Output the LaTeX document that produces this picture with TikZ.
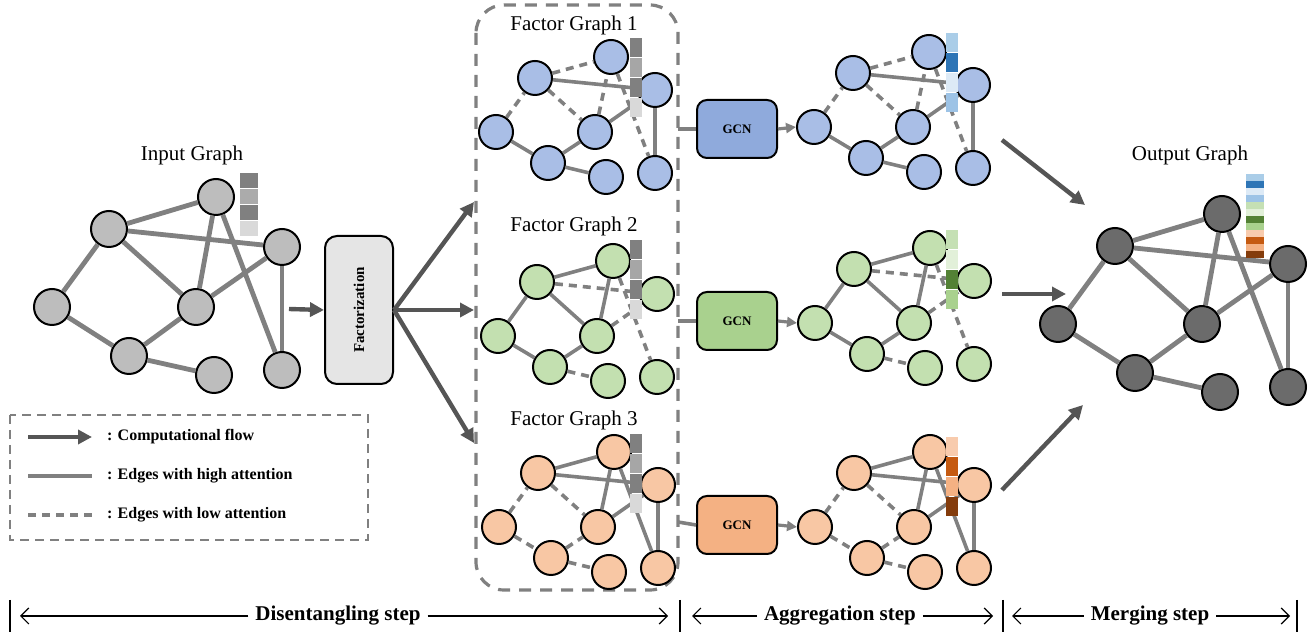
\documentclass[tikz,border=0pt]{standalone}
\usepackage{fontspec}
\setmainfont{Liberation Serif}
\usetikzlibrary{arrows.meta}
\definecolor{eg}{HTML}{808080}
\definecolor{fl}{HTML}{555555}
\definecolor{gn}{HTML}{BDBDBD}
\definecolor{dn}{HTML}{6B6B6B}
\definecolor{bn}{HTML}{A9BEE6}
\definecolor{grn}{HTML}{C3E0B0}
\definecolor{on}{HTML}{F8C7A4}
\definecolor{cb1}{RGB}{170,205,232}
\definecolor{cb2}{RGB}{46,117,182}
\definecolor{cb3}{RGB}{221,234,246}
\definecolor{cb4}{RGB}{157,195,230}
\definecolor{cg1}{RGB}{197,224,180}
\definecolor{cg2}{RGB}{226,240,217}
\definecolor{cg3}{RGB}{83,129,53}
\definecolor{cg4}{RGB}{169,209,142}
\definecolor{co1}{RGB}{248,203,173}
\definecolor{co2}{RGB}{197,90,17}
\definecolor{co3}{RGB}{244,177,131}
\definecolor{co4}{RGB}{132,60,12}
\tikzset{
  nd/.style={circle,draw=black,line width=1pt,minimum size=17pt,inner sep=0pt},
  bnd/.style={nd,minimum size=18pt},
  se/.style={draw=eg,line width=1.8pt},
  de/.style={draw=eg,line width=1.8pt,dash pattern=on 4pt off 3pt},
  be/.style={draw=eg,line width=2.4pt},
  flow/.style={draw=fl,line width=2.2pt,-{Triangle[length=7pt,width=7pt]}},
  sflow/.style={draw=eg,line width=1.6pt,-{Triangle[length=5pt,width=5pt]}},
  gcn/.style={draw=black,line width=1pt,rounded corners=5pt,minimum width=40pt,minimum height=29pt,font=\bfseries\fontsize{6.5}{7}\selectfont},
  lbl/.style={font=\fontsize{10.5}{12}\selectfont},
  steplbl/.style={font=\bfseries\fontsize{10.5}{12}\selectfont},
  cell/.style={minimum width=6pt,minimum height=9.5pt,inner sep=0pt,draw=none},
  ocell/.style={minimum width=9pt,minimum height=3.5pt,inner sep=0pt,draw=none},
  starr/.style={draw=black,line width=0.6pt,-{Straight Barb[length=4pt]}},
}
\newcommand\fgraph[4]{%
\begin{scope}[shift={(#2,#3)}]
\node[nd,fill=#4] (#1a) at (611,57) {};
\node[nd,fill=#4] (#1b) at (535,78) {};
\node[nd,fill=#4] (#1c) at (655,90) {};
\node[nd,fill=#4] (#1d) at (496,132) {};
\node[nd,fill=#4] (#1e) at (595,132) {};
\node[nd,fill=#4] (#1f) at (548,163) {};
\node[nd,fill=#4] (#1g) at (606,177) {};
\node[nd,fill=#4] (#1h) at (655,173) {};
\end{scope}}
\newcommand\igraph[4]{%
\begin{scope}[shift={(#2,#3)}]
\node[bnd,fill=#4] (#1a) at (216,197) {};
\node[bnd,fill=#4] (#1b) at (109,229) {};
\node[bnd,fill=#4] (#1c) at (282,247) {};
\node[bnd,fill=#4] (#1d) at (52,307) {};
\node[bnd,fill=#4] (#1e) at (196,307) {};
\node[bnd,fill=#4] (#1f) at (129,356) {};
\node[bnd,fill=#4] (#1g) at (214,375) {};
\node[bnd,fill=#4] (#1h) at (282,370) {};
\end{scope}
\foreach \u/\v in {b/a,b/c,b/e,b/d,d/f,f/e,f/g,a/e,a/h,e/c,c/h}{\draw[be] (#1\u) -- (#1\v);}}
\newcommand\edgesA[1]{%
\foreach \u/\v in {b/c,d/f,f/e,e/c,c/h,f/g}{\draw[se] (#1\u) -- (#1\v);}
\foreach \u/\v in {b/a,b/e,d/b,e/a,a/h}{\draw[de] (#1\u) -- (#1\v);}}
\newcommand\edgesB[1]{%
\foreach \u/\v in {b/a,b/e,d/b,d/f,f/e,a/e}{\draw[se] (#1\u) -- (#1\v);}
\foreach \u/\v in {b/c,f/g,e/c,a/h}{\draw[de] (#1\u) -- (#1\v);}}
\newcommand\edgesC[1]{%
\foreach \u/\v in {b/a,b/c,a/e,e/c,a/h,c/h}{\draw[se] (#1\u) -- (#1\v);}
\foreach \u/\v in {b/e,d/b,d/f,f/e,f/g}{\draw[de] (#1\u) -- (#1\v);}}
\begin{document}
\begin{tikzpicture}[x=0.5pt,y=-0.5pt]
\useasboundingbox (0,0) rectangle (1308,640);
% input graph
\node[lbl] (tin) at (192,155) {Input Graph};
\igraph{i}{0}{0}{gn}
\node[cell,fill=black!50,anchor=north,minimum width=9pt,minimum height=7.5pt] (ib1) at (249,173) {};
\node[cell,fill=black!33,anchor=north,minimum width=9pt,minimum height=7.5pt] (ib2) at (ib1.south) {};
\node[cell,fill=black!50,anchor=north,minimum width=9pt,minimum height=7.5pt] (ib3) at (ib2.south) {};
\node[cell,fill=black!15,anchor=north,minimum width=9pt,minimum height=7.5pt] (ib4) at (ib3.south) {};
% factorization
\node[draw=black,line width=1pt,rounded corners=6pt,fill=black!10,minimum width=34pt,minimum height=74pt] (fac) at (359,310) {};
\node[rotate=90,font=\bfseries\fontsize{7.5}{9}\selectfont] (factxt) at (fac.center) {Factorization};
\coordinate (inarr) at (289,309);
\draw[flow] (inarr) -- (fac.west);
\coordinate (t1) at (474,202);
\coordinate (t2) at (474,310);
\coordinate (t3) at (474,443);
\draw[flow] (fac.east) -- (t1);
\draw[flow] (fac.east) -- (t2);
\draw[flow] (fac.east) -- (t3);
% factor frame
\draw[draw=eg,line width=1.6pt,dash pattern=on 6pt off 4.5pt,rounded corners=14pt] (476,5) rectangle (678,590);
\node[lbl] (tf1) at (574,25) {Factor Graph 1};
\node[lbl] (tf2) at (574,226) {Factor Graph 2};
\node[lbl] (tf3) at (574,420) {Factor Graph 3};
% factor graphs
\fgraph{p}{0}{0}{bn}\edgesA{p}
\fgraph{q}{2}{204}{grn}\edgesB{q}
\fgraph{r}{3}{395}{on}\edgesC{r}
% outputs
\fgraph{s}{318}{-5}{bn}\edgesA{s}
\fgraph{t}{319}{191}{grn}\edgesB{t}
\fgraph{u}{319}{395}{on}\edgesC{u}
% bars (factor)
\foreach \n/\y in {pb/38,qb/240,rb/434}{
 \node[cell,fill=black!50,anchor=north] (\n1) at (636,\y) {};
 \node[cell,fill=black!35,anchor=north] (\n2) at (\n1.south) {};
 \node[cell,fill=black!50,anchor=north] (\n3) at (\n2.south) {};
 \node[cell,fill=black!15,anchor=north] (\n4) at (\n3.south) {};}
\foreach \n/\y/\p in {sb/33/cb,tb/230/cg,ub/437/co}{
 \node[cell,fill=\p1,anchor=north] (\n1) at (952,\y) {};
 \node[cell,fill=\p2,anchor=north] (\n2) at (\n1.south) {};
 \node[cell,fill=\p3,anchor=north] (\n3) at (\n2.south) {};
 \node[cell,fill=\p4,anchor=north] (\n4) at (\n3.south) {};}
% GCN
\node[gcn,fill={rgb,255:red,143;green,170;blue,220}] (g1) at (737,129) {GCN};
\node[gcn,fill={rgb,255:red,169;green,209;blue,142}] (g2) at (737,321) {GCN};
\node[gcn,fill={rgb,255:red,244;green,177;blue,131}] (g3) at (737,525) {GCN};
\coordinate (l1) at (678,129);\coordinate (l2) at (678,321);\coordinate (l3) at (678,522);
\draw[se] (l1) -- (g1.west);\draw[se] (l2) -- (g2.west);\draw[se] (l3) -- (g3.west);
\draw[sflow] (g1.east) -- (sd.west);
\draw[sflow] (g2.east) -- (td.west);
\draw[sflow] (g3.east) -- (ud.west);
% output graph
\node[lbl] (tout) at (1190,155) {Output Graph};
\igraph{o}{1006}{17}{dn}
\foreach \k/\cc in {1/cb1,2/cb2,3/cb3,4/cb4,5/cg1,6/cg2,7/cg3,8/cg4,9/co1,10/co2,11/co3,12/co4}{
 \node[ocell,fill=\cc,anchor=north] (ob\k) at (1255,{174+7*(\k-1)}) {};}
\coordinate (m1s) at (1002,140);\coordinate (m1e) at (1085,205);
\coordinate (m2s) at (1002,294);\coordinate (m2e) at (1066,294);
\coordinate (m3s) at (1002,490);\coordinate (m3e) at (1083,405);
\draw[flow] (m1s) -- (m1e);\draw[flow] (m2s) -- (m2e);\draw[flow] (m3s) -- (m3e);
% legend
\draw[draw=eg,line width=1.2pt,dash pattern=on 4.5pt off 3pt] (10,415) rectangle (368,540);
\coordinate (la1) at (28,437);\coordinate (la2) at (92,437);
\coordinate (lb1) at (28,476);\coordinate (lb2) at (92,476);
\coordinate (lc1) at (28,515);\coordinate (lc2) at (92,515);
\draw[flow] (la1) -- (la2);
\draw[se] (lb1) -- (lb2);
\draw[de] (lc1) -- (lc2);
\node[anchor=west,font=\bfseries\fontsize{8}{9}\selectfont] (lt1) at (100,437) {: Computational flow};
\node[anchor=west,font=\bfseries\fontsize{8}{9}\selectfont] (lt2) at (100,476) {: Edges with high attention};
\node[anchor=west,font=\bfseries\fontsize{8}{9}\selectfont] (lt3) at (100,515) {: Edges with low attention};
% steps
\foreach \n/\x in {v0/10,v1/680,v2/1003,v3/1297}{
 \coordinate (\n t) at (\x,600);\coordinate (\n b) at (\x,632);
 \draw[black,line width=1.2pt] (\n t) -- (\n b);}
\node[steplbl] (s1) at (338,616) {Disentangling step};
\node[steplbl] (s2) at (840,616) {Aggregation step};
\node[steplbl] (s3) at (1150,616) {Merging step};
\coordinate (a1l) at (20,616);\coordinate (a1r) at (668,616);
\coordinate (a2l) at (692,616);\coordinate (a2r) at (993,616);
\coordinate (a3l) at (1012,616);\coordinate (a3r) at (1290,616);
\draw[starr] (s1.west) -- (a1l);\draw[starr] (s1.east) -- (a1r);
\draw[starr] (s2.west) -- (a2l);\draw[starr] (s2.east) -- (a2r);
\draw[starr] (s3.west) -- (a3l);\draw[starr] (s3.east) -- (a3r);
\end{tikzpicture}
\end{document}
